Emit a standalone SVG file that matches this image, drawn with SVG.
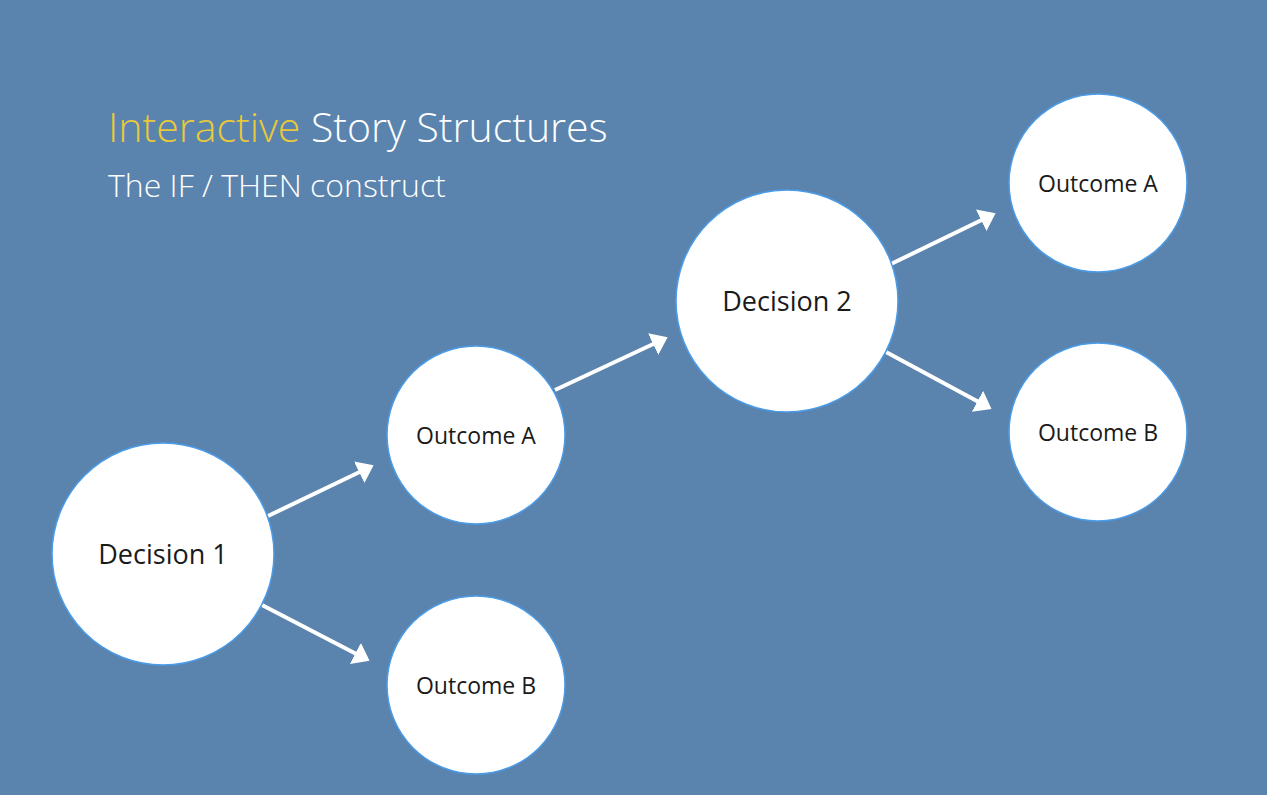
<svg xmlns="http://www.w3.org/2000/svg" width="1267" height="795" viewBox="0 0 1267 795">
<style>
.n{fill:#fff;stroke:#4a9be8;stroke-width:1.5}
.t{font-family:"Open Sans","Liberation Sans",sans-serif;fill:#1a1a1a;text-anchor:middle}
.c{stroke:#fff;stroke-width:4;fill:none;marker-end:url(#ah)}
</style>
<defs><marker id="ah" markerWidth="6" markerHeight="6" refX="3" refY="3" orient="auto" markerUnits="strokeWidth"><path d="M0,0 L4,3 L0,6 Z" fill="#fff"/></marker></defs>
<rect width="1267" height="795" fill="#5a84ae"/>
<text x="108" y="142" font-family="'Open Sans','Liberation Sans',sans-serif" font-weight="300" font-size="41" fill="#fff"><tspan fill="#e8c93a">Interactive</tspan> Story Structures</text>
<text x="108" y="197" font-family="'Open Sans','Liberation Sans',sans-serif" font-weight="300" font-size="32" fill="#fff">The IF / THEN construct</text>
<g id="connectors">
<line class="c" x1="268" y1="516" x2="370" y2="467"/>
<line class="c" x1="262" y1="605" x2="366" y2="659"/>
<line class="c" x1="555" y1="390" x2="664" y2="339"/>
<line class="c" x1="891" y1="264" x2="992" y2="215"/>
<line class="c" x1="886" y1="352" x2="988" y2="407"/>
</g>
<g id="decision1"><circle class="n" cx="163" cy="554" r="111"/><text class="t" x="163" y="564" font-size="27">Decision 1</text></g>
<g id="outcomeA1"><circle class="n" cx="476" cy="435" r="89"/><text class="t" x="476" y="444" font-size="23">Outcome A</text></g>
<g id="outcomeB1"><circle class="n" cx="476" cy="685" r="89"/><text class="t" x="476" y="694" font-size="23">Outcome B</text></g>
<g id="decision2"><circle class="n" cx="787" cy="301" r="111"/><text class="t" x="787" y="311" font-size="27">Decision 2</text></g>
<g id="outcomeA2"><circle class="n" cx="1098" cy="183" r="89"/><text class="t" x="1098" y="192" font-size="23">Outcome A</text></g>
<g id="outcomeB2"><circle class="n" cx="1098" cy="432" r="89"/><text class="t" x="1098" y="441" font-size="23">Outcome B</text></g>
</svg>
